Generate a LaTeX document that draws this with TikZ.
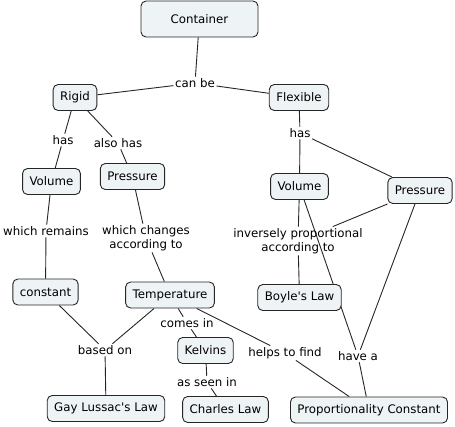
\documentclass[tikz,border=0pt]{standalone}
\usepackage{fontspec}
\setmainfont{DejaVu Sans}
\usetikzlibrary{backgrounds}
\definecolor{cptfill}{HTML}{EEF3F5}
\begin{document}
\begin{tikzpicture}[
  x=1pt, y=-1pt,
  cpt/.style={rectangle, rounded corners=5pt, draw=black!85, fill=cptfill, line width=0.9pt,
              minimum height=26pt, inner xsep=7pt, font=\fontsize{11.8}{14}\selectfont},
  lnk/.style={inner sep=1.5pt, align=center, font=\fontsize{11.8}{14}\selectfont},
  e/.style={line width=0.9pt, draw=black!85}
]
\useasboundingbox (0,0) rectangle (455,426);

% --- Concepts ---
\node[cpt, minimum width=117pt, minimum height=36pt] (ctr) at (199.5,19) {Container};
\node[cpt] (rig)  at (75,97.5)    {Rigid};
\node[cpt] (flx)  at (299,97.5)   {Flexible};
\node[cpt] (volL) at (51.5,181.5) {Volume};
\node[cpt] (preL) at (132.5,176.5){Pressure};
\node[cpt] (volR) at (299.5,186.5){Volume};
\node[cpt] (preR) at (420,190.5)  {Pressure};
\node[cpt] (cst)  at (45.5,292)   {constant};
\node[cpt] (tmp)  at (170,295)    {Temperature};
\node[cpt] (kel)  at (205.5,350.5){Kelvins};
\node[cpt] (gay)  at (106,408.5)  {Gay Lussac\textquotesingle s Law};
\node[cpt] (chl)  at (225.5,409.5){Charles Law};
\node[cpt] (boy)  at (299.5,297.5){Boyle\textquotesingle s Law};
\node[cpt] (pco)  at (369,410)    {Proportionality Constant};

% --- Linking phrases ---
\node[lnk] (canbe) at (195,83)  {can be};
\node[lnk] (hasL)  at (63,140)  {has};
\node[lnk] (also)  at (118,143) {also has};
\node[lnk] (hasR)  at (300,133) {has};
\node[lnk] (rem)   at (46,231)  {which remains};
\node[lnk] (chg)   at (146,238) {which changes\\according to};
\node[lnk] (inv)   at (298,241) {inversely proportional\\according to};
\node[lnk] (based) at (105,350) {based on};
\node[lnk] (comes) at (187,323) {comes in};
\node[lnk] (seen)  at (207,382) {as seen in};
\node[lnk] (helps) at (285,353) {helps to find};
\node[lnk] (havea) at (358,356) {have a};

% --- Connections (behind the boxes) ---
\begin{scope}[on background layer]
\path[e] (ctr) -- (canbe);
\path[e] (canbe) -- (rig);
\path[e] (canbe) -- (flx);
\path[e] (rig) -- (hasL);
\path[e] (hasL) -- (volL);
\path[e] (rig) -- (also);
\path[e] (also) -- (preL);
\path[e] (volL) -- (rem);
\path[e] (rem) -- (cst);
\path[e] (preL) -- (chg);
\path[e] (chg) -- (tmp);
\path[e] (cst) -- (based);
\path[e] (tmp) -- (based);
\path[e] (based) -- (gay);
\path[e] (tmp) -- (comes);
\path[e] (comes) -- (kel);
\path[e] (kel) -- (seen);
\path[e] (seen) -- (chl);
\path[e] (tmp) -- (helps);
\path[e] (helps) -- (pco);
\path[e] (flx) -- (hasR);
\path[e] (hasR) -- (volR);
\path[e] (hasR) -- (preR);
\path[e] (volR) -- (inv);
\path[e] (preR) -- (inv);
\path[e] (inv) -- (boy);
\path[e] (volR) -- (havea);
\path[e] (preR) -- (havea);
\path[e] (havea) -- (pco);
\end{scope}

\end{tikzpicture}
\end{document}
